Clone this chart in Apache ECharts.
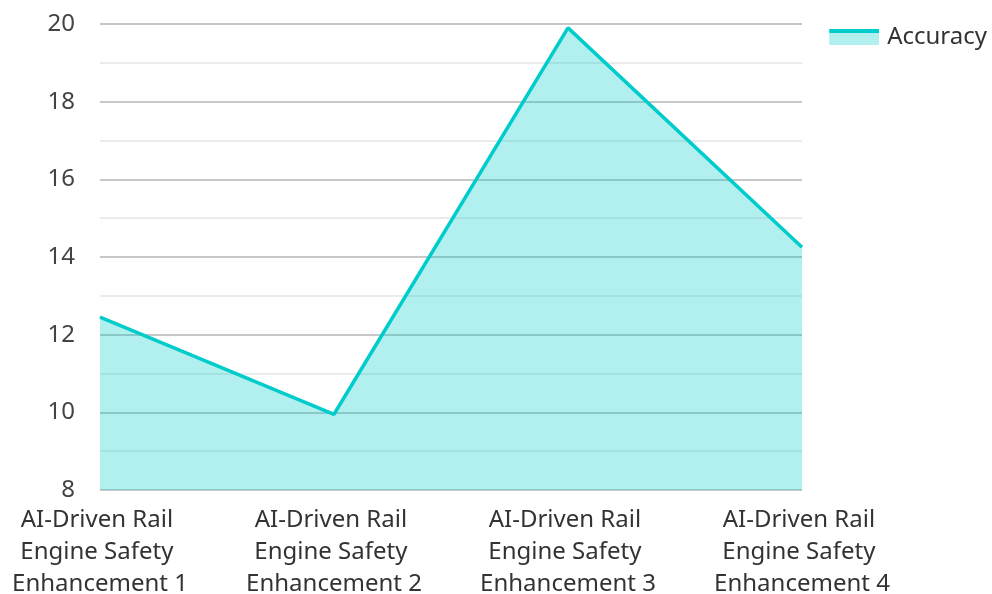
<!DOCTYPE html>
<html>
<head>
<meta charset="utf-8">
<script src="https://cdn.jsdelivr.net/npm/echarts@6/dist/echarts.min.js"></script>
<style>html,body{margin:0;padding:0;background:#fff}#c{width:992px;height:594px}</style>
</head>
<body>
<div id="c"></div>
<script>
const categories = [
  'AI-Driven Rail Engine Safety Enhancement 1',
  'AI-Driven Rail Engine Safety Enhancement 2',
  'AI-Driven Rail Engine Safety Enhancement 3',
  'AI-Driven Rail Engine Safety Enhancement 4'
];
const seriesName = 'Accuracy';
const accuracy = [12.45, 9.95, 19.9, 14.25];
const yMin = 8, yMax = 20, yInterval = 2;

const iconSvg = '<svg xmlns="http://www.w3.org/2000/svg" width="50" height="16" viewBox="0 0 50 16">' +
  '<rect x="0" y="4" width="50" height="12" fill="#b2efef"/>' +
  '<rect x="0" y="0" width="50" height="4" fill="#00cccc"/></svg>';
const legendIcon = 'image://data:image/svg+xml;charset=utf-8,' + encodeURIComponent(iconSvg);

const chart = echarts.init(document.getElementById('c'), null, {renderer: 'canvas'});
chart.setOption({
  animation: false,
  textStyle: {fontFamily: 'Noto Sans'},
  legend: {
    data: [{name: seriesName, icon: legendIcon}],
    right: 0, top: 20,
    itemWidth: 50, itemHeight: 16, itemGap: 10,
    textStyle: {fontSize: 24, color: '#333', fontFamily: 'Noto Sans', padding: [0, 0, 0, 3]}
  },
  grid: {left: 100, right: 190, top: 24, bottom: 104, containLabel: false, outerBoundsMode: 'none'},
  xAxis: {
    type: 'category',
    data: categories,
    boundaryGap: false,
    axisLine: {show: false},
    axisTick: {show: false},
    axisLabel: {
      interval: 0, fontSize: 24, color: '#333', lineHeight: 32, margin: 14,
      width: 205, overflow: 'break', fontFamily: 'Noto Sans'
    },
    splitLine: {show: false}
  },
  yAxis: {
    type: 'value',
    min: yMin, max: yMax, interval: yInterval,
    axisLine: {show: false},
    axisTick: {show: false},
    axisLabel: {fontSize: 24, color: '#444', margin: 25, fontFamily: 'Noto Sans'},
    splitLine: {show: true, lineStyle: {color: '#c8c8c8', width: 2}},
    minorTick: {show: false, splitNumber: 2},
    minorSplitLine: {show: true, lineStyle: {color: '#ebebeb', width: 2}}
  },
  series: [{
    name: seriesName,
    type: 'line',
    data: accuracy,
    symbol: 'none',
    lineStyle: {color: '#00cccc', width: 3.5},
    itemStyle: {color: '#00cccc'},
    areaStyle: {color: '#00cccc', opacity: 0.3}
  }]
});
</script>
</body>
</html>
